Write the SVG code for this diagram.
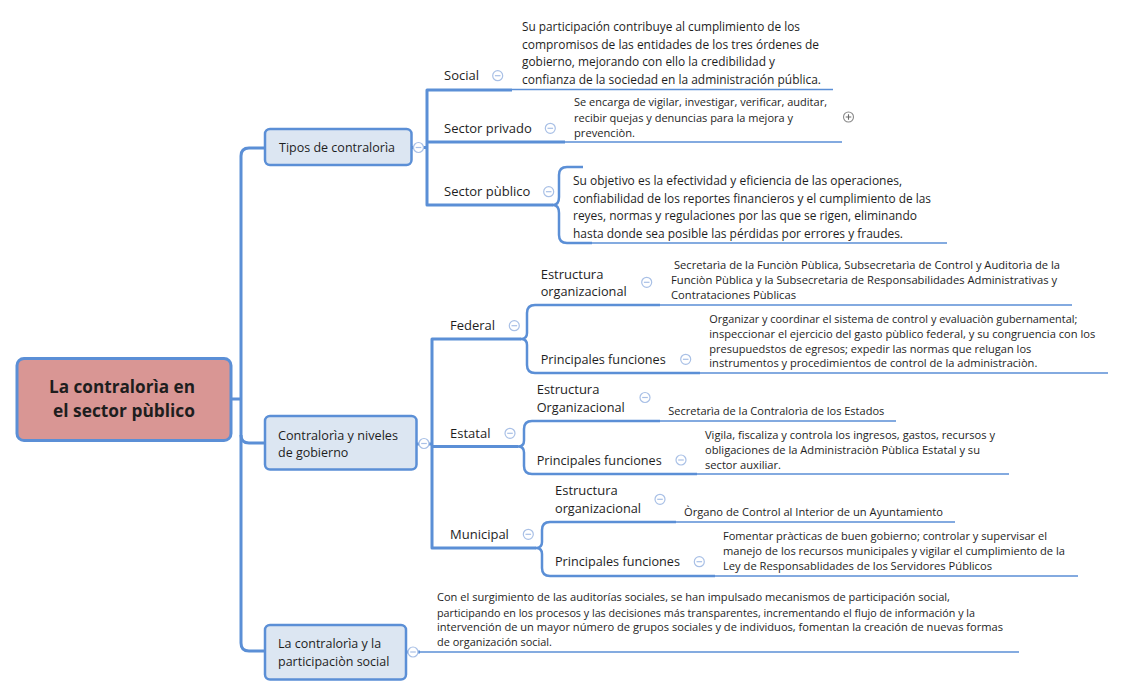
<svg xmlns="http://www.w3.org/2000/svg" width="1125" height="696" viewBox="0 0 1125 696">
<defs>
<style>
text{font-family:'Open Sans','Noto Sans','DejaVu Sans',sans-serif;fill:#1e1e1e}
.lbl{font-size:13px}
.box{font-size:12.5px}
.rt{font-size:17.5px;font-weight:bold;text-anchor:middle}
.d12{font-size:12px}
.d11{font-size:11px}
.d10{font-size:10.5px}
.conn{fill:none;stroke:#5b8fd6;stroke-width:3;stroke-linejoin:round}
.br{fill:none;stroke:#5b8fd6;stroke-width:2.5;stroke-linejoin:round}
.ul{fill:none;stroke:#5b8fd6;stroke-width:1.5}
.sub{fill:#dce6f2;stroke:#5b8fd6;stroke-width:2.5}
.root{fill:#d99694;stroke:#5b8fd6;stroke-width:3}
</style>
<g id="minus"><circle r="5" fill="#fff" stroke="#a9c0e6" stroke-width="1.2"/><path d="M-2.8,0H2.8" stroke="#a9c0e6" stroke-width="1.2"/></g>
<g id="plus"><circle r="5" fill="#fff" stroke="#8a8a8a" stroke-width="1.1"/><path d="M-2.8,0H2.8M0,-2.8V2.8" stroke="#6a6a6a" stroke-width="1.1"/></g>
</defs>
<rect width="1125" height="696" fill="#fff"/>

<g id="connectors">
<path class="conn" d="M231,399H241"/>
<path class="conn" d="M265,148H249Q241,148 241,156V643Q241,651 249,651H265"/>
<path class="conn" d="M241,435Q241,443 249,443H265"/>
<path class="conn" d="M411,147.5H427"/>
<path class="conn" d="M512,90H427V205H553"/>
<path class="conn" d="M427,142H565"/>
<path class="ul" d="M512,89.5H833M565,142H842"/>
<path class="br" d="M583,167H567Q559,167 559,175V197Q559,205 553,205Q559,205 559,213V235Q559,243 567,243H592"/>
<path class="ul" d="M592,243H947"/>
<path class="conn" d="M417,444H432"/>
<path class="conn" d="M521,339H432V548H536"/>
<path class="conn" d="M432,446.5H518"/>
<path class="br" d="M660,305H535Q527,305 527,313V333Q527,339 521,339Q527,339 527,345V365Q527,373 535,373H700"/>
<path class="ul" d="M660,305H1072M700,373H1108"/>
<path class="br" d="M660,421H532Q524,421 524,429V440.5Q524,446.5 518,446.5Q524,446.5 524,452.5V466Q524,474 532,474H697"/>
<path class="ul" d="M660,421H896M697,474H1009"/>
<path class="br" d="M676,522H550Q542,522 542,530V542Q542,548 536,548Q542,548 542,554V568Q542,576 550,576H715"/>
<path class="ul" d="M676,522H955M715,576H1078"/>
<path class="conn" d="M406,652H420"/>
<path class="ul" d="M420,652H1019"/>
</g>

<g id="root">
<rect class="root" x="17" y="358.5" width="214" height="82" rx="7"/>
<text class="rt" x="122" y="393" textLength="146" lengthAdjust="spacingAndGlyphs">La contralorìa en</text>
<text class="rt" x="124" y="417" textLength="142" lengthAdjust="spacingAndGlyphs">el sector pùblico</text>
</g>

<g id="tipos">
<rect class="sub" x="265" y="129" width="146.5" height="36" rx="5"/>
<text class="box" x="279" y="152" textLength="116" lengthAdjust="spacingAndGlyphs">Tipos de contralorìa</text>
<use href="#minus" x="418.5" y="147.5"/>
</g>

<g id="social">
<text class="lbl" x="444" y="80">Social</text>
<use href="#minus" x="497.7" y="75.7"/>
</g>
<g id="social-desc">
<text class="d12" x="522" y="31" textLength="278" lengthAdjust="spacingAndGlyphs">Su participación contribuye al cumplimiento de los</text>
<text class="d12" x="522" y="48.5" textLength="297" lengthAdjust="spacingAndGlyphs">compromisos de las entidades de los tres órdenes de</text>
<text class="d12" x="522" y="66" textLength="253" lengthAdjust="spacingAndGlyphs">gobierno, mejorando con ello la credibilidad y</text>
<text class="d12" x="522" y="83.5" textLength="299" lengthAdjust="spacingAndGlyphs">confianza de la sociedad en la administración pública.</text>
</g>

<g id="privado">
<text class="lbl" x="444" y="133">Sector privado</text>
<use href="#minus" x="550.3" y="128.3"/>
</g>
<g id="privado-desc">
<text class="d11" x="574" y="106" textLength="253" lengthAdjust="spacingAndGlyphs">Se encarga de vigilar, investigar, verificar, auditar,</text>
<text class="d11" x="574" y="121.5" textLength="219" lengthAdjust="spacingAndGlyphs">recibir quejas y denuncias para la mejora y</text>
<text class="d11" x="574" y="137" textLength="61" lengthAdjust="spacingAndGlyphs">prevenciòn.</text>
<use href="#plus" x="848.5" y="117"/>
</g>

<g id="publico">
<text class="lbl" x="444" y="196">Sector pùblico</text>
<use href="#minus" x="548.7" y="191.7"/>
</g>
<g id="publico-desc">
<text class="d12" x="573" y="185" textLength="329" lengthAdjust="spacingAndGlyphs">Su objetivo es la efectividad y eficiencia de las operaciones,</text>
<text class="d12" x="573" y="202.5" textLength="358" lengthAdjust="spacingAndGlyphs">confiabilidad de los reportes financieros y el cumplimiento de las</text>
<text class="d12" x="573" y="220" textLength="344" lengthAdjust="spacingAndGlyphs">reyes, normas y regulaciones por las que se rigen, eliminando</text>
<text class="d12" x="573" y="237.5" textLength="330" lengthAdjust="spacingAndGlyphs">hasta donde sea posible las pérdidas por errores y fraudes.</text>
</g>

<g id="niveles">
<rect class="sub" x="265" y="416" width="151.5" height="53.5" rx="5"/>
<text class="box" x="278" y="439.5" textLength="120" lengthAdjust="spacingAndGlyphs">Contralorìa y niveles</text>
<text class="box" x="278" y="457">de gobierno</text>
<use href="#minus" x="424" y="443.5"/>
</g>

<g id="federal">
<text class="lbl" x="450" y="330">Federal</text>
<use href="#minus" x="514.3" y="325.7"/>
</g>
<g id="fed-estructura">
<text class="lbl" x="540.7" y="278.5">Estructura</text>
<text class="lbl" x="540.7" y="296" textLength="86" lengthAdjust="spacingAndGlyphs">organizacional</text>
<use href="#minus" x="646.7" y="282.3"/>
</g>
<g id="fed-estructura-desc">
<text class="d11" x="674" y="269" textLength="386" lengthAdjust="spacingAndGlyphs">Secretarìa de la Funciòn Pùblica, Subsecretarìa de Control y Auditorìa de la</text>
<text class="d11" x="671" y="284" textLength="386" lengthAdjust="spacingAndGlyphs">Funciòn Pùblica y la Subsecretaria de Responsabilidades Administrativas y</text>
<text class="d11" x="671" y="299" textLength="125" lengthAdjust="spacingAndGlyphs">Contrataciones Pùblicas</text>
</g>
<g id="fed-funciones">
<text class="lbl" x="540.7" y="364" textLength="125" lengthAdjust="spacingAndGlyphs">Principales funciones</text>
<use href="#minus" x="685.7" y="359.3"/>
</g>
<g id="fed-funciones-desc">
<text class="d11" x="709.3" y="322.5" textLength="368" lengthAdjust="spacingAndGlyphs">Organizar y coordinar el sistema de control y evaluaciòn gubernamental;</text>
<text class="d11" x="709.3" y="337.5" textLength="386" lengthAdjust="spacingAndGlyphs">inspeccionar el ejercicio del gasto pùblico federal, y su congruencia con los</text>
<text class="d11" x="709.3" y="352.5" textLength="322" lengthAdjust="spacingAndGlyphs">presupuedstos de egresos; expedir las normas que relugan los</text>
<text class="d11" x="709.3" y="367" textLength="328" lengthAdjust="spacingAndGlyphs">instrumentos y procedimientos de control de la administraciòn.</text>
</g>

<g id="estatal">
<text class="lbl" x="450" y="438">Estatal</text>
<use href="#minus" x="510" y="433.3"/>
</g>
<g id="est-estructura">
<text class="lbl" x="536.7" y="394">Estructura</text>
<text class="lbl" x="536.7" y="412" textLength="88" lengthAdjust="spacingAndGlyphs">Organizacional</text>
<use href="#minus" x="645" y="397.5"/>
</g>
<g id="est-estructura-desc">
<text class="d11" x="668.3" y="415" textLength="216" lengthAdjust="spacingAndGlyphs">Secretarìa de la Contralorìa de los Estados</text>
</g>
<g id="est-funciones">
<text class="lbl" x="536.7" y="464.5" textLength="125" lengthAdjust="spacingAndGlyphs">Principales funciones</text>
<use href="#minus" x="681" y="460"/>
</g>
<g id="est-funciones-desc">
<text class="d11" x="705" y="438.5" textLength="290" lengthAdjust="spacingAndGlyphs">Vigila, fiscaliza y controla los ingresos, gastos, recursos y</text>
<text class="d11" x="705" y="453.5" textLength="275" lengthAdjust="spacingAndGlyphs">obligaciones de la Administraciòn Pùblica Estatal y su</text>
<text class="d11" x="705" y="468.5" textLength="76" lengthAdjust="spacingAndGlyphs">sector auxiliar.</text>
</g>

<g id="municipal">
<text class="lbl" x="450" y="539">Municipal</text>
<use href="#minus" x="528.3" y="534.3"/>
</g>
<g id="mun-estructura">
<text class="lbl" x="555" y="494.5">Estructura</text>
<text class="lbl" x="555" y="513" textLength="86" lengthAdjust="spacingAndGlyphs">organizacional</text>
<use href="#minus" x="660" y="499.3"/>
</g>
<g id="mun-estructura-desc">
<text class="d11" x="684" y="516" textLength="259" lengthAdjust="spacingAndGlyphs">Òrgano de Control al Interior de un Ayuntamiento</text>
</g>
<g id="mun-funciones">
<text class="lbl" x="555" y="566" textLength="125" lengthAdjust="spacingAndGlyphs">Principales funciones</text>
<use href="#minus" x="699.3" y="561.7"/>
</g>
<g id="mun-funciones-desc">
<text class="d11" x="723" y="540" textLength="324" lengthAdjust="spacingAndGlyphs">Fomentar pràcticas de buen gobierno; controlar y supervisar el</text>
<text class="d11" x="723" y="554.5" textLength="342" lengthAdjust="spacingAndGlyphs">manejo de los recursos municipales y vigilar el cumplimiento de la</text>
<text class="d11" x="723" y="569.5" textLength="269" lengthAdjust="spacingAndGlyphs">Ley de Responsablidades de los Servidores Públicos</text>
</g>

<g id="participacion">
<rect class="sub" x="265" y="625" width="141" height="54.5" rx="5"/>
<text class="box" x="278" y="648">La contralorìa y la</text>
<text class="box" x="278" y="666">participaciòn social</text>
<use href="#minus" x="413" y="652"/>
</g>
<g id="participacion-desc">
<text class="d10" x="437" y="601" textLength="513" lengthAdjust="spacingAndGlyphs">Con el surgimiento de las auditorías sociales, se han impulsado mecanismos de participación social,</text>
<text class="d10" x="437" y="616.5" textLength="538" lengthAdjust="spacingAndGlyphs">participando en los procesos y las decisiones más transparentes, incrementando el flujo de información y la</text>
<text class="d10" x="437" y="631" textLength="566" lengthAdjust="spacingAndGlyphs">intervención de un mayor número de grupos sociales y de individuos, fomentan la creación de nuevas formas</text>
<text class="d10" x="437" y="646" textLength="115" lengthAdjust="spacingAndGlyphs">de organización social.</text>
</g>
</svg>
